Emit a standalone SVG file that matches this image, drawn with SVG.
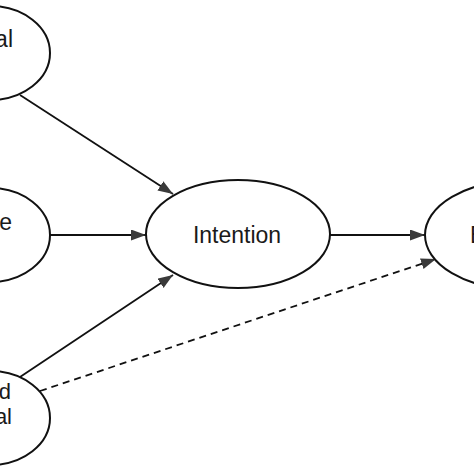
<svg xmlns="http://www.w3.org/2000/svg" width="474" height="474" viewBox="0 0 474 474">
<style>
.node ellipse{fill:#fff;stroke:#111;stroke-width:2}
text{font-family:"Liberation Sans",Arial,sans-serif;font-size:23px;fill:#1a1a1a}
.c line{stroke:#111;stroke-width:1.8}
.dash{stroke-dasharray:7,5}
</style>
<defs>
<marker id="ah" markerUnits="userSpaceOnUse" markerWidth="16" markerHeight="12" refX="15" refY="5.5" orient="auto">
<path d="M0,0 L15,5.5 L0,11 z" fill="#3a3a3a"/>
</marker>
</defs>
<rect width="474" height="474" fill="#fff"/>
<g class="c">
<line x1="20" y1="95" x2="173" y2="194" marker-end="url(#ah)"/>
<line x1="50" y1="235" x2="146" y2="235" marker-end="url(#ah)"/>
<line x1="20" y1="377" x2="173" y2="275" marker-end="url(#ah)"/>
<line x1="330" y1="235" x2="425" y2="235" marker-end="url(#ah)"/>
<line class="dash" x1="40" y1="391" x2="436" y2="259" marker-end="url(#ah)"/>
</g>
<g id="n1" class="node"><ellipse cx="-10" cy="53" rx="60" ry="47"/><text x="13" y="47" text-anchor="end">al</text></g>
<g id="n2" class="node"><ellipse cx="-10" cy="235" rx="60" ry="47"/><text x="12" y="230" text-anchor="end">e</text></g>
<g id="n3" class="node"><ellipse cx="-10" cy="418" rx="60" ry="47"/><text x="11" y="399" text-anchor="end" style="font-size:22px">d</text><text x="12" y="424" text-anchor="end" style="font-size:22px">al</text></g>
<g id="n4" class="node"><ellipse cx="238" cy="234" rx="92" ry="54"/><text x="237" y="243" text-anchor="middle">Intention</text></g>
<g id="n5" class="node"><ellipse cx="517" cy="235" rx="92" ry="54"/><text x="470" y="243">B</text></g>
</svg>
